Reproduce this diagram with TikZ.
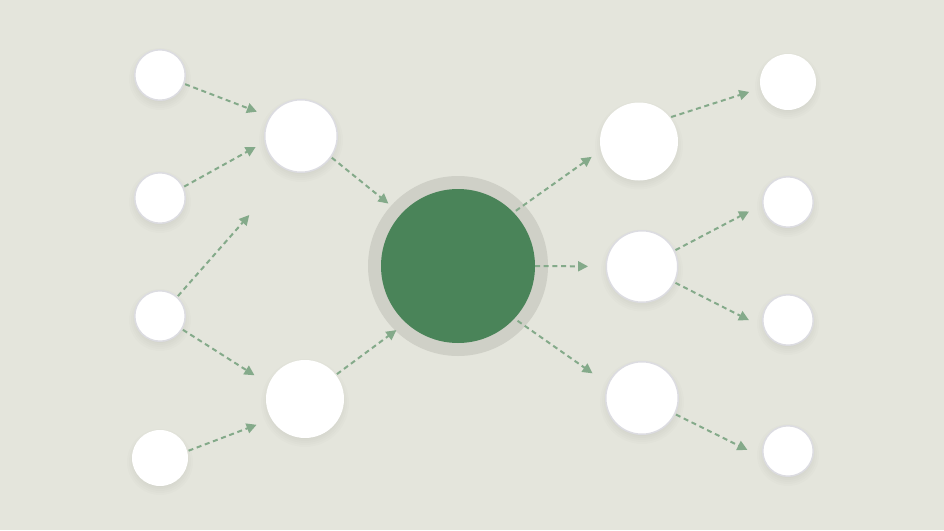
\documentclass[tikz,border=0pt]{standalone}
\usetikzlibrary{arrows.meta}
\definecolor{bgcol}{HTML}{E4E5DC}
\definecolor{greencol}{HTML}{4A8459}
\definecolor{halocol}{HTML}{CFD0C7}
\definecolor{arrcol}{HTML}{84AA8A}
\definecolor{rimcol}{HTML}{DCDCE1}
\pgfdeclarelayer{back}
\pgfdeclarelayer{shade}
\pgfsetlayers{back,shade,main}
\tikzset{
  dot/.style={circle, fill=white, inner sep=0pt, outer sep=0pt, draw=none},
  rim/.style={draw=rimcol, line width=1.5pt},
  flow/.style={draw=arrcol, line width=2pt, dash pattern=on 5pt off 3.7pt,
    -{Triangle[length=10pt,width=10pt]}, shorten <=1.5pt},
}
\begin{document}
\begin{tikzpicture}[x=1pt,y=-1pt]
\begin{pgfonlayer}{back}
\fill[bgcol] (0,0) rectangle (944,530);
\end{pgfonlayer}
\useasboundingbox (0,0) rectangle (944,530);
% halo and central node
\node[circle, fill=halocol, inner sep=0pt, outer sep=0pt, minimum size=180pt] (halo) at (458,266) {};
\node[circle, fill=greencol, inner sep=0pt, outer sep=0pt, minimum size=154pt] (core) at (halo.center) {};
% left column
\node[dot, rim, minimum size=50.5pt] (a1) at (160,75) {};
\node[dot, rim, minimum size=50.5pt] (a2) at (160,198) {};
\node[dot, rim, minimum size=50.5pt] (a3) at (160,316) {};
\node[dot, minimum size=56pt] (a4) at (160,458) {};
% second column
\node[dot, rim, minimum size=72.5pt] (b1) at (301,136) {};
\node[dot, minimum size=78pt] (b2) at (305,399) {};
% third column
\node[dot, minimum size=78pt] (c1) at (639,141.5) {};
\node[dot, rim, minimum size=71.5pt] (c2) at (642,266.5) {};
\node[dot, rim, minimum size=72.5pt] (c3) at (642,398) {};
% right column
\node[dot, minimum size=56pt] (d1) at (788,82) {};
\node[dot, rim, minimum size=50.5pt] (d2) at (788,202) {};
\node[dot, rim, minimum size=50.5pt] (d3) at (788,320) {};
\node[dot, rim, minimum size=50.5pt] (d4) at (788,451) {};
% soft shadows under the white nodes
\begin{pgfonlayer}{shade}
\foreach \n/\r in {a1/26,a2/26,a3/26,a4/28,b1/37,b2/39,c1/39,c2/36,c3/37,d1/28,d2/26,d3/26,d4/26}{
  \foreach \k in {0,2,...,8}{
    \fill[black, opacity=0.012] ([yshift=-4pt]\n.center) circle ({\r+\k-3});
  }
}
\end{pgfonlayer}
\coordinate (free) at (249.3,215);
% connectors
\draw[flow, shorten >=14.3pt] (a1.-20.5) -- (b1.148.8);
\draw[flow, shorten >=10.9pt] (a2.25.6) -- (b1.189.4);
\draw[flow] (a3.48.9) -- (free);
\draw[flow, shorten >=17pt] (a3.-31) -- (b2.158.8);
\draw[flow, shorten >=16pt] (a4.14.2) -- (b2.211.4);
\draw[flow, shorten >=3.5pt] (b1.-35.5) -- (halo.138.7);
\draw[flow, shorten >=-1.1pt] (b2.38.3) -- (halo.226.8);
\draw[flow, shorten <=3pt, shorten >=11.4pt] (core.44.8) -- (c1.193.9);
\draw[flow, shorten <=0pt, shorten >=18.2pt] (core.0) -- (c2.180);
\draw[flow, shorten <=4pt, shorten >=19.3pt] (core.-43.2) -- (c3.158.65);
\draw[flow, shorten >=12pt] (c1.38.6) -- (d1.193.8);
\draw[flow, shorten >=15.6pt] (c2.26.4) -- (d2.185.4);
\draw[flow, shorten >=16.85pt] (c2.-26.8) -- (d3.198.3);
\draw[flow, shorten >=18.2pt] (c3.-26.1) -- (d4.196);
\end{tikzpicture}
\end{document}
